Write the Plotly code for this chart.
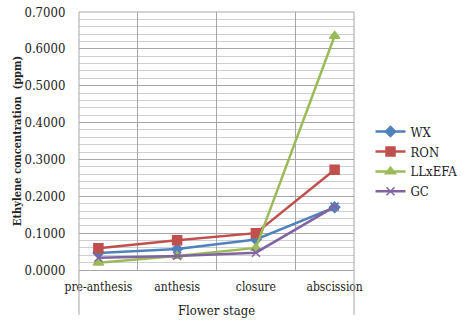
import plotly.graph_objects as go

stages = ["pre-anthesis", "anthesis", "closure", "abscission"]
wx = [0.046, 0.057, 0.083, 0.170]
ron = [0.059, 0.081, 0.100, 0.272]
llxefa = [0.020, 0.038, 0.060, 0.635]
gc = [0.033, 0.038, 0.047, 0.172]

series = [
    ("WX", wx, "#4F81BD", "diamond", 8),
    ("RON", ron, "#C0504D", "square", 9),
    ("LLxEFA", llxefa, "#9BBB59", "triangle-up", 9),
    ("GC", gc, "#8064A2", "x-thin", 8),
]

fig = go.Figure()
for name, vals, col, sym, sz in series:
    fig.add_trace(go.Scatter(
        x=stages, y=vals, name=name, mode="lines+markers",
        line=dict(color=col, width=2.5),
        marker=dict(symbol=sym, size=sz, color=col, line=dict(color=col, width=1.5)),
    ))

font_family = "DejaVu Serif Condensed"
fig.update_layout(
    width=474, height=322,
    margin=dict(l=79, r=99, t=12, b=52),
    paper_bgcolor="white", plot_bgcolor="white",
    font=dict(family=font_family, size=13, color="#222"),
    showlegend=True,
    legend=dict(x=1.06, y=0.42, xanchor="left", yanchor="middle",
                font=dict(family=font_family, size=13, color="#222"),
                tracegroupgap=0, itemwidth=30, bgcolor="rgba(0,0,0,0)"),
)
fig.update_xaxes(
    type="category", tickson="boundaries", showgrid=True, gridcolor="#A6A6A6", gridwidth=1,
    ticks="", showline=False, zeroline=False, ticklabelstandoff=8, tickangle=0,
    automargin=False,
    title=dict(text="Flower stage", font=dict(size=13, family=font_family), standoff=12),
    tickfont=dict(size=12, family=font_family),
)
fig.update_yaxes(
    range=[0, 0.7], dtick=0.1, tickformat=".4f",
    showgrid=True, gridcolor="#A6A6A6", gridwidth=1,
    minor=dict(dtick=0.02, showgrid=True, gridcolor="#CFCFCF", gridwidth=1),
    zeroline=True, zerolinecolor="#A6A6A6", zerolinewidth=1,
    showline=False, ticks="outside", ticklen=10, tickcolor="rgba(0,0,0,0)",
    automargin=False,
    tickfont=dict(size=13, family=font_family),
    title=dict(text="<b>Ethylene concentration  (ppm)</b>", font=dict(size=11, family=font_family), standoff=0),
)
for xp in (0, 1):
    fig.add_shape(type="line", xref="paper", yref="paper", x0=xp, x1=xp, y0=-0.174, y1=1,
                  line=dict(color="#A6A6A6", width=1))
fig.add_shape(type="line", xref="paper", yref="paper", x0=0, x1=1, y0=1, y1=1,
              line=dict(color="#A6A6A6", width=1))

fig.write_html("out.html")
